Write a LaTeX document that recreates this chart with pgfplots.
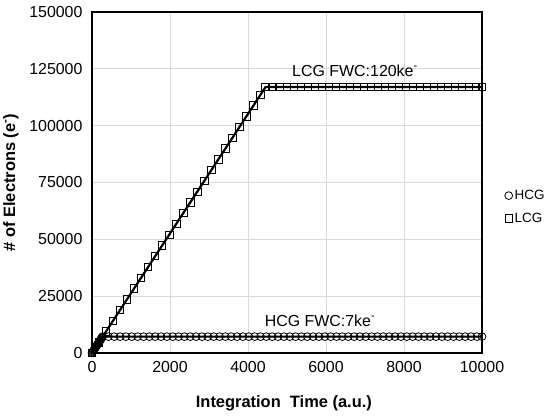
\documentclass[border=0pt]{standalone}
\usepackage{pgfplots}
\pgfplotsset{compat=1.18}
\usepackage{fontspec}
\setmainfont{Liberation Sans}
\begin{document}
\begin{tikzpicture}
  \begin{axis}[
    name=ax,
    scale only axis,
    width=390bp, height=341bp,
    xmin=0, xmax=10000, ymin=0, ymax=150000,
    xtick={0,2000,...,10000},
    ytick={0,25000,...,150000},
    scaled ticks=false,
    /pgf/number format/.cd, fixed, set thousands separator={}, assume math mode=true,
    /pgfplots/.cd,
    grid=major,
    major grid style={draw=black!15, line width=0.8bp},
    major tick length=0pt,
    axis line style={black, line width=1.6bp},
    clip=false,
    tick label style={font=\fontsize{16}{19}\selectfont},
    yticklabel style={xshift=-6bp},
    xticklabel style={yshift=-5bp},
    xlabel={Integration\ \ Time (a.u.)},
    ylabel={\# of Electrons (e\textsuperscript{-})},
    label style={font=\fontsize{16.5}{19}\selectfont\bfseries},
    xlabel style={at={(axis description cs:0.492,-0.1466)}, anchor=center},
    ylabel style={at={(axis description cs:-0.2080,0.5)}, anchor=center},
    legend style={at={(axis description cs:1.058,0.428)}, anchor=west,
      draw=none, fill=none, font=\fontsize{13.5}{16}\selectfont,
      row sep=8bp, inner sep=0pt},
    legend cell align=left,
    legend image code/.code={\draw[mark repeat=2,mark phase=2,#1,only marks]
      plot coordinates {(0cm,0cm)(0.12cm,0cm)(0.24cm,0cm)};},
  ]
    % HCG
    \addplot[black, line width=2.2bp, mark=o, mark size=3.9bp,
      mark options={solid, line width=0.8bp, fill=none}] coordinates {
      (0,0) (15,400) (30,800) (45,1200) (60,1600) (75,2000) (90,2400)
      (105,2800) (120,3200) (135,3600) (150,4000) (165,4400) (180,4800)
      (195,5200) (210,5600) (225,6000) (240,6400) (255,6800) (270,7200)
      (420,7200) (570,7200) (720,7200) (870,7200) (1020,7200) (1170,7200)
      (1320,7200) (1470,7200) (1620,7200) (1770,7200) (1920,7200) (2070,7200)
      (2220,7200) (2370,7200) (2520,7200) (2670,7200) (2820,7200) (2970,7200)
      (3120,7200) (3270,7200) (3420,7200) (3570,7200) (3720,7200) (3870,7200)
      (4020,7200) (4170,7200) (4320,7200) (4470,7200) (4620,7200) (4770,7200)
      (4920,7200) (5070,7200) (5220,7200) (5370,7200) (5520,7200) (5670,7200)
      (5820,7200) (5970,7200) (6120,7200) (6270,7200) (6420,7200) (6570,7200)
      (6720,7200) (6870,7200) (7020,7200) (7170,7200) (7320,7200) (7470,7200)
      (7620,7200) (7770,7200) (7920,7200) (8070,7200) (8220,7200) (8370,7200)
      (8520,7200) (8670,7200) (8820,7200) (8970,7200) (9120,7200) (9270,7200)
      (9420,7200) (9570,7200) (9720,7200) (9870,7200) (10000,7200)
    };
    % LCG
    \addplot[black, line width=2.2bp, mark=square, mark size=3.7bp,
      mark options={solid, line width=0.8bp, fill=none}] coordinates {
      (0,0) (180,4732) (360,9464) (540,14197) (720,18929) (900,23661)
      (1080,28393) (1260,33125) (1440,37858) (1620,42590) (1800,47322)
      (1980,52054) (2160,56786) (2340,61519) (2520,66251) (2700,70983)
      (2880,75715) (3060,80447) (3240,85180) (3420,89912) (3600,94644)
      (3780,99376) (3960,104108) (4140,108841) (4320,113573) (4450,117000)
      (4630,117000) (4810,117000) (4990,117000) (5170,117000) (5350,117000)
      (5530,117000) (5710,117000) (5890,117000) (6070,117000) (6250,117000)
      (6430,117000) (6610,117000) (6790,117000) (6970,117000) (7150,117000)
      (7330,117000) (7510,117000) (7690,117000) (7870,117000) (8050,117000)
      (8230,117000) (8410,117000) (8590,117000) (8770,117000) (8950,117000)
      (9130,117000) (9310,117000) (9490,117000) (9670,117000) (9850,117000)
      (10000,117000)
    };
    \legend{HCG, LCG}
    \node[font=\fontsize{16}{19}\selectfont] at (axis cs:6744,124300)
      {LCG FWC:120ke\textsuperscript{-}};
    \node[font=\fontsize{16}{19}\selectfont] at (axis cs:5846,14300)
      {HCG FWC:7ke\textsuperscript{-}};
  \end{axis}
  \pgfresetboundingbox
  \useasboundingbox ([shift={(-92bp,-65bp)}]ax.south west)
    rectangle ([shift={(68bp,12bp)}]ax.north east);
\end{tikzpicture}
\end{document}
